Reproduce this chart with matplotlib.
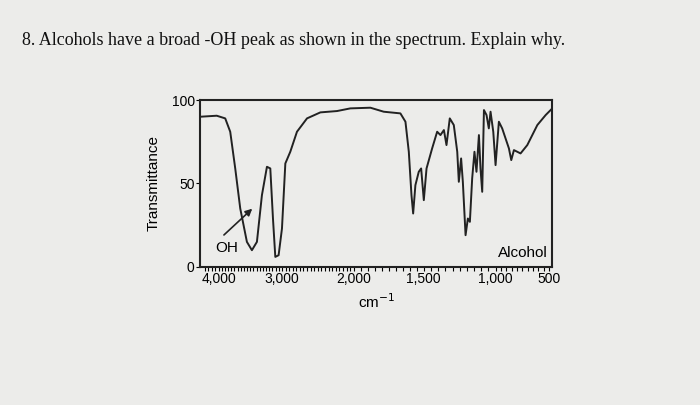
import numpy as np
import matplotlib
matplotlib.use("Agg")
import matplotlib.pyplot as plt
plt.rcParams["font.family"] = ["Liberation Sans", "DejaVu Sans"]

# IR spectrum of an alcohol
wavenumber = [4260, 4026, 3895, 3816, 3737, 3658, 3553, 3474, 3395, 3316, 3237, 3184, 3142,
              3105, 3053, 3000, 2953, 2884, 2791, 2651, 2465, 2233, 2047, 1881, 1786, 1667,
              1631, 1607, 1588, 1576, 1560, 1536, 1519, 1500, 1481, 1442, 1407, 1384, 1360,
              1342, 1319, 1291, 1267, 1256, 1240, 1228, 1209, 1193, 1179, 1163, 1147, 1133,
              1116, 1105, 1093, 1081, 1063, 1047, 1035, 1016, 1000, 969, 938, 875, 853, 828,
              766, 703, 609, 531, 469]
transmittance = [90, 90.6, 89, 81, 59, 35, 15, 10, 15, 43, 60, 59, 29, 6, 7, 23, 62, 69, 81,
                 89, 92.6, 93.4, 95, 95.4, 93, 92, 87, 69, 43, 32, 49, 57, 59, 40, 59, 71, 81,
                 79, 82, 73, 89, 85, 69, 51, 65, 51, 19, 29, 27, 53, 69, 57, 79, 59, 45, 94,
                 91, 83, 93, 81, 61, 87, 83, 71, 64, 70, 68, 73, 85, 91, 95]
tick_wn = [4000, 3000, 2000, 1500, 1000, 500]
tick_lbl = ["4,000", "3,000", "2,000", "1,500", "1,000", "500"]

# chart scale changes at 2000 cm-1; map wavenumber to a drawing position
scale_wn = [4263, 4000, 3000, 2000, 1500, 1000, 500, 469]
scale_pos = [150, 205, 395, 610, 820, 1035, 1195, 1205]
def pos(w):
    return np.interp(-np.asarray(w, float), -np.array(scale_wn, float), scale_pos)

fig = plt.figure(figsize=(7, 4.05), dpi=100)
fig.patch.set_facecolor("#ececea")
fig.text(0.031, 0.89, "8. Alcohols have a broad -OH peak as shown in the spectrum. Explain why.",
         family="Liberation Serif", fontsize=13, color="#111111")

ax = fig.add_axes([0.286, 0.341, 0.503, 0.412])
ax.set_facecolor("#ececea")
ax.plot(pos(wavenumber), transmittance, color="#222222", lw=1.4)
ax.set_xlim(150, 1205); ax.set_ylim(0, 100)
ax.set_xticks(pos(tick_wn)); ax.set_xticklabels(tick_lbl)
ax.set_xticks(pos(np.arange(4200, 499, -50)), minor=True)
ax.tick_params(axis="x", which="minor", length=3, width=0.8)
ax.set_yticks([0, 50, 100])
ax.tick_params(labelsize=10, length=3, pad=1)
for s in ax.spines.values():
    s.set_linewidth(1.5); s.set_color("#222222")
ax.set_ylabel("Transmittance", fontsize=11, labelpad=8)
ax.set_xlabel("cm$^{-1}$", fontsize=11, labelpad=4)
ax.text(195, 9, "OH", fontsize=11)
ax.annotate("", xy=(312, 36), xytext=(215, 18),
            arrowprops=dict(arrowstyle="-|>", color="#222222", lw=1.2))
ax.text(1190, 6, "Alcohol", fontsize=11, ha="right")
fig.savefig("out.png", facecolor=fig.get_facecolor())
